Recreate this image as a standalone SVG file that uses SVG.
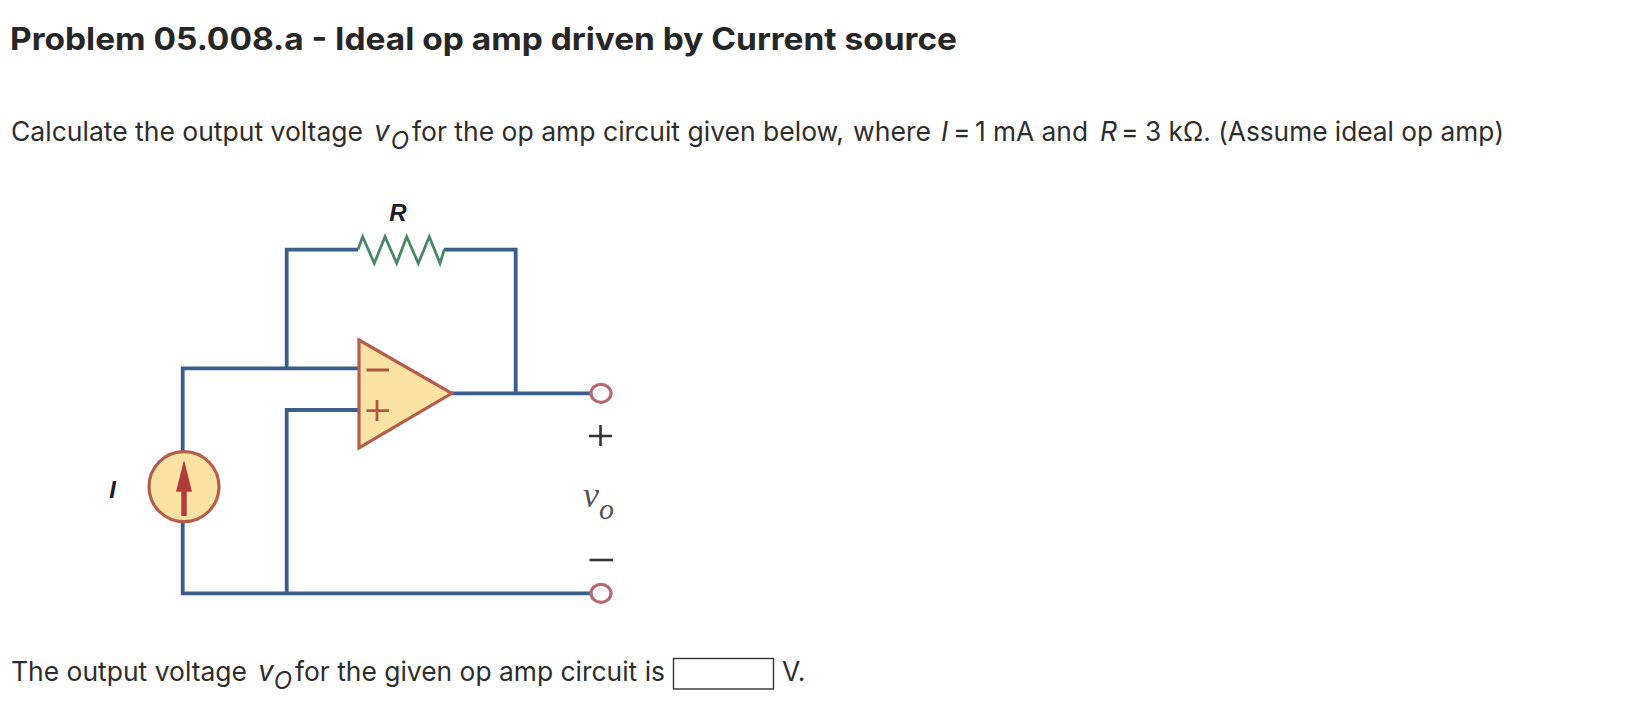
<svg xmlns="http://www.w3.org/2000/svg" width="1650" height="716" viewBox="0 0 1650 716">
<style>
.t{font-family:"Inter","Open Sans","Liberation Sans",sans-serif;font-size:26.500px;fill:#2d2d2d}
.i{font-style:italic}
.h{font-family:"Inter","Open Sans","Liberation Sans",sans-serif;font-size:31px;font-weight:700;fill:#262626}
.w{fill:none;stroke:#3a5e8c;stroke-width:3.800;stroke-linejoin:miter}
.r{fill:none;stroke:#4a8766;stroke-width:2.800}
.b{fill:#fae2a4;stroke:#b35f4d;stroke-width:3.200}
.c{font-family:"Liberation Sans",Arial,sans-serif;fill:#1c1c2a}
.s{stroke:#b0583f;stroke-width:2.800;fill:none}
.k{stroke:#333;stroke-width:2.600;fill:none}
</style>
<rect width="1650" height="716" fill="#fff"/>
<text class="h" x="10" y="50" textLength="947" lengthAdjust="spacingAndGlyphs">Problem 05.008.a - Ideal op amp driven by Current source</text>
<g id="question">
<text class="t" x="11" y="141" textLength="352" lengthAdjust="spacingAndGlyphs">Calculate the output voltage</text>
<text class="t i" x="374" y="141" style="font-size:28px">v<tspan dy="8" dx="1" style="font-size:24px">O</tspan></text>
<text class="t" x="412" y="141" textLength="432" lengthAdjust="spacingAndGlyphs">for the op amp circuit given below,</text>
<text class="t" x="853" y="141" textLength="78" lengthAdjust="spacingAndGlyphs">where</text>
<text class="t i" x="941" y="141">I</text>
<text class="t" x="953" y="141">=</text>
<text class="t" x="975" y="141">1</text>
<text class="t" x="993" y="141" textLength="95" lengthAdjust="spacingAndGlyphs">mA and</text>
<text class="t i" x="1100" y="141">R</text>
<text class="t" x="1121" y="141">=</text>
<text class="t" x="1145" y="141" textLength="359" lengthAdjust="spacingAndGlyphs">3 kΩ. (Assume ideal op amp)</text>
</g>
<g id="connectors">
<path class="w" d="M360 368.300H182.700V593.300H592"/>
<path class="w" d="M286.700 368.300V249.700H358"/>
<path class="w" d="M444 249.700H515.700V393.300"/>
<path class="w" d="M360 410H286.700V593.300"/>
<path class="w" d="M450 393.300H592"/>
</g>
<g id="resistor-R">
<polyline class="r" points="358,249.500 362.700,236.700 374.300,263.300 385,236.700 396.700,263.300 406.700,236.700 418.300,263.300 429.300,236.700 440,263.300 444.300,249.500"/>
<text class="c" x="398" y="220.500" font-size="24" font-weight="700" font-style="italic" text-anchor="middle">R</text>
</g>
<g id="opamp">
<polygon class="b" points="359,340 451.700,393.300 359,448"/>
<path class="s" d="M366.500 370H389M366.500 410.700H389M377 400V421"/>
</g>
<g id="source-I">
<circle class="b" cx="184" cy="486.700" r="35"/>
<path d="M184 460L192 491.700H186.700V516H181.300V491.700H176Z" fill="#b23a3a"/>
<text class="c" x="112.500" y="498" font-size="24" font-weight="700" font-style="italic" text-anchor="middle">I</text>
</g>
<g id="terminal-out">
<ellipse cx="601" cy="393.300" rx="10" ry="9" fill="#fff" stroke="#b56a72" stroke-width="3.200"/>
</g>
<g id="terminal-gnd">
<ellipse cx="601" cy="593.300" rx="10" ry="9" fill="#fff" stroke="#b56a72" stroke-width="3.200"/>
</g>
<g id="vo-label">
<path class="k" d="M589 436H612M600.500 425V446"/>
<path class="k" d="M589.500 560H613"/>
<text x="583" y="507" font-family="Liberation Serif,serif" font-style="italic" font-size="36" fill="#555">v<tspan dy="12" font-size="30">o</tspan></text>
</g>
<g id="answer">
<text class="t" x="11" y="681" textLength="236" lengthAdjust="spacingAndGlyphs">The output voltage</text>
<text class="t i" x="258" y="681" style="font-size:28px">v<tspan dy="8" dx="0" style="font-size:24px">O</tspan></text>
<text class="t" x="295" y="681" textLength="370" lengthAdjust="spacingAndGlyphs">for the given op amp circuit is</text>
<rect x="673.500" y="658.500" width="100" height="30.500" fill="#fff" stroke="#333" stroke-width="1.400"/>
<text class="t" x="782" y="681">V.</text>
</g>
</svg>
